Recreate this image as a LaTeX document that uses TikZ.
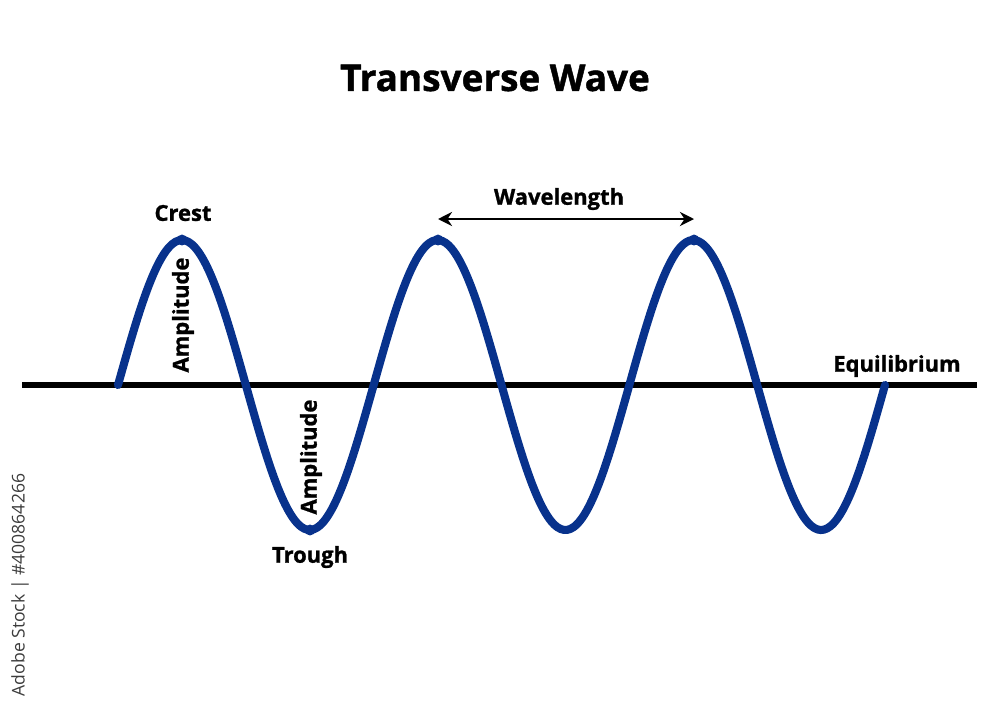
\documentclass[tikz,border=0pt]{standalone}
\usepackage{fontspec}
\setmainfont{Open Sans}[BoldFeatures={FakeBold=1.2}]
\usetikzlibrary{arrows.meta}
\definecolor{wave}{RGB}{8,50,140}
\definecolor{wm}{RGB}{60,60,60}
\tikzset{
  lbl/.style={font=\bfseries\fontsize{12.5}{14}\selectfont, inner sep=0pt},
  ttl/.style={font=\bfseries\fontsize{21}{25}\selectfont, inner sep=0pt},
  dotmark/.style={circle, fill=wave, inner sep=0pt, minimum size=11pt*0.567},
  waveline/.style={draw=wave, line width=4.6pt, line cap=round},
  eqline/.style={draw=black, line width=2.9pt},
  wlarrow/.style={draw=black, line width=1.6pt, {Stealth[length=8pt,width=8pt]}-{Stealth[length=8pt,width=8pt]}}
}
\begin{document}
\begin{tikzpicture}[x=0.02cm, y=-0.02cm]
\useasboundingbox (0,0) rectangle (1000,714);
% title
\node[ttl] (title) at (495,78) {Transverse Wave};
% equilibrium line
\coordinate (eqL) at (22,385);
\coordinate (eqR) at (977,385);
\draw[eqline] (eqL) -- (eqR);
% wave
\draw[waveline] plot[domain=0:1080, samples=240, smooth] ({118+\x*0.710194}, {385-145*sin(\x)});
% marks
\node[dotmark] (c1) at (182,240) {};
\node[dotmark] (c2) at (438,240) {};
\node[dotmark] (c3) at (694,240) {};
\node[dotmark] (t1) at (310,530) {};
% labels
\node[lbl] (crest) at (183,213) {Crest};
\node[lbl] (trough) at (310,557) {Trough};
\node[lbl, rotate=90] (amp1) at (183,315) {Amplitude};
\node[lbl, rotate=90] (amp2) at (311,457) {Amplitude};
\node[lbl] (eq) at (897,366) {Equilibrium};
\node[lbl] (wl) at (559,199) {Wavelength};
\coordinate (wlA) at (438,219);
\coordinate (wlB) at (694,219);
\draw[wlarrow] (wlA) -- (wlB);
% watermark
\node[font=\fontsize{10}{12}\selectfont, text=wm, rotate=90, inner sep=0pt] (stock) at (20,585) {Adobe Stock | \#400864266};
\end{tikzpicture}
\end{document}
